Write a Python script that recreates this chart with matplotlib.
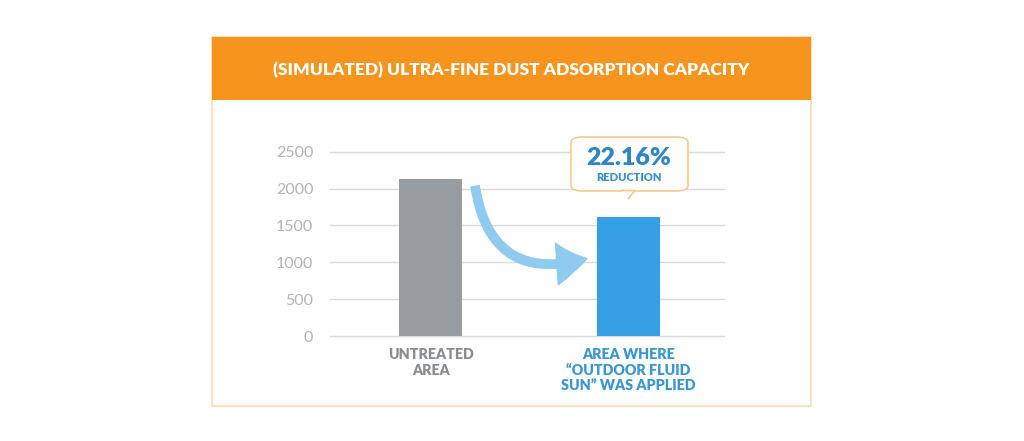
import matplotlib
matplotlib.use('Agg')
import matplotlib.pyplot as plt
from matplotlib.patches import Rectangle, FancyBboxPatch, FancyArrowPatch, Polygon

plt.rcParams['font.family'] = ['Lato', 'DejaVu Sans']

# dados
categorias = ["UNTREATED\nAREA", "AREA WHERE\n\u201cOUTDOOR FLUID\nSUN\u201d WAS APPLIED"]
valores = [2130, 1620]
cores = ['#979ca1', '#35a0e3']
cores_texto = ['#8a8d90', '#3a95d3']
yticks = [0, 500, 1000, 1500, 2000, 2500]
titulo = "(SIMULATED) ULTRA-FINE DUST ADSORPTION CAPACITY"
reducao = "22.16%"

fig = plt.figure(figsize=(10.24, 4.41), dpi=100)
W, H = 1024, 441

def fx(px):
    return px / W

def fy(py):
    return 1 - py / H

# painel com cabecalho laranja
fig.patches.append(Rectangle((fx(212), fy(406)), fx(811) - fx(212), fy(37) - fy(406),
                             transform=fig.transFigure, facecolor='white',
                             edgecolor='#fbdcb8', linewidth=1.2, zorder=0))
fig.patches.append(Rectangle((fx(212), fy(100)), fx(811) - fx(212), fy(37) - fy(100),
                             transform=fig.transFigure, facecolor='#f7941d',
                             edgecolor='none', zorder=1))
fig.text(fx(511), fy(70), titulo, color='white', fontsize=12.5, fontweight='heavy',
         ha='center', va='center')

# eixo
ax = fig.add_axes([fx(330), fy(336), fx(724) - fx(330), fy(151.7) - fy(336)])
ax.set_zorder(2)
ax.patch.set_alpha(0)
x = [0, 1]
ax.bar(x, valores, width=0.318, color=cores, zorder=3)
ax.set_xlim(-0.508, 1.482)
ax.set_ylim(0, 2500)
ax.set_yticks(yticks)
ax.set_yticklabels([str(v) for v in yticks], color='#b3b3b3', fontsize=11.5)
ax.tick_params(axis='y', length=0, pad=12)
ax.set_xticks([])
for s in ax.spines.values():
    s.set_visible(False)
for v in yticks:
    ax.axhline(v, color='#d9d9d9', linewidth=1, zorder=1, clip_on=False)

for i, cat in enumerate(categorias):
    ax.text(x[i], -160, cat, ha='center', va='top', color=cores_texto[i],
            fontsize=10.3, fontweight='heavy', linespacing=1.25)

# seta curva
seta = FancyArrowPatch((0.225, 2030), (0.79, 1050), connectionstyle='arc3,rad=0.56',
                       arrowstyle='simple,head_width=30,head_length=22,tail_width=6',
                       color='#8fcaef', zorder=4, mutation_scale=1, clip_on=False,
                       shrinkA=0, shrinkB=0)
ax.add_patch(seta)

# balao
fig.patches.append(FancyBboxPatch((fx(571), fy(191)), fx(688) - fx(571), fy(137) - fy(191),
                                  boxstyle='round,pad=0,rounding_size=0.012',
                                  transform=fig.transFigure, facecolor='white',
                                  edgecolor='#f8c98e', linewidth=1.2, zorder=5))
fig.patches.append(Polygon([(fx(621), fy(190.5)), (fx(635), fy(190.5)), (fx(628), fy(199))],
                           closed=False, transform=fig.transFigure, facecolor='white',
                           edgecolor='#f8c98e', linewidth=1.2, zorder=6))
fig.text(fx(629), fy(158), reducao, color='#2e86c8', fontsize=18, fontweight='heavy',
         ha='center', va='center', zorder=7)
fig.text(fx(629), fy(178), "REDUCTION", color='#3a8fcf', fontsize=8, fontweight='heavy',
         ha='center', va='center', zorder=7)

fig.savefig('out.png', dpi=100, facecolor='white')
